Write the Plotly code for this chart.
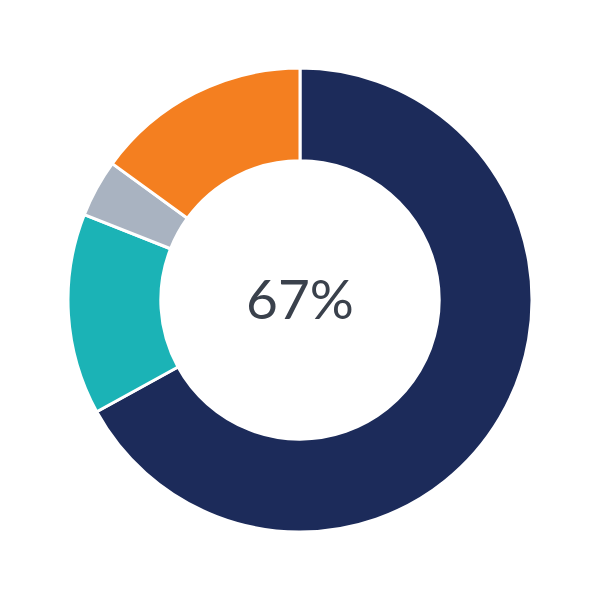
import plotly.graph_objects as go

labels = ["Navy", "Teal", "Grey", "Orange"]
values = [67, 14, 4, 15]
colors = ["#1c2b5a", "#1bb3b6", "#a9b3c1", "#f47f20"]
center_text = "67%"

fig = go.Figure(go.Pie(
    labels=labels,
    values=values,
    hole=0.6,
    sort=False,
    direction="clockwise",
    rotation=0,
    marker=dict(colors=colors, line=dict(color="white", width=3)),
    textinfo="none",
    hoverinfo="label+percent",
    showlegend=False,
))

fig.add_annotation(
    text=center_text, x=0.5, y=0.5, xref="paper", yref="paper",
    showarrow=False, yshift=2,
    font=dict(family="Lato", size=55, color="#3a414c"),
)

fig.update_layout(
    width=600, height=600,
    margin=dict(l=60, r=76, t=60, b=76),
    paper_bgcolor="white", plot_bgcolor="white",
)

fig.write_html("out.html")
